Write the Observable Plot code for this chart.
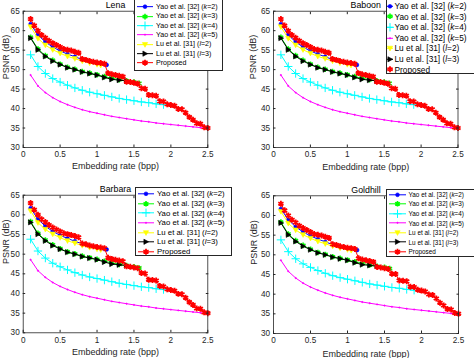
<!DOCTYPE html>
<html><head><meta charset="utf-8">
<script src="https://cdn.jsdelivr.net/npm/d3@7"></script>
<script src="https://cdn.jsdelivr.net/npm/@observablehq/plot@0.6"></script>
<style>
body{margin:0;background:#fff;}
#fig{position:relative;width:474px;height:358px;overflow:hidden;background:#fff;font-family:"Liberation Sans",Arial,sans-serif;}
.panel{position:absolute;}
.legend{position:absolute;background:#fff;border:1px solid #262626;box-sizing:border-box;overflow:hidden;}
.legend .row{display:flex;align-items:center;white-space:nowrap;color:#000;}
.legend svg{flex:none;}
</style></head><body><div id="fig"></div>
<script>
// ---- data ----
const panelTitles = ["Lena", "Baboon", "Barbara", "Goldhill"];
const xTicks = [0, 0.5, 1, 1.5, 2, 2.5];
const yTicks = [30, 35, 40, 45, 50, 55, 60, 65];
const xLabel = "Embedding rate (bpp)";
const yLabel = "PSNR (dB)";
const seriesLabels = [
  "Yao et al. [32] (<i>k</i>=2)", "Yao et al. [32] (<i>k</i>=3)", "Yao et al. [32] (<i>k</i>=4)",
  "Yao et al. [32] (<i>k</i>=5)", "Lu et al. [31] (<i>l</i>=2)", "Lu et al. [31] (<i>l</i>=3)", "Proposed"
];
const yao2X = [0.1,0.2,0.3,0.4,0.5,0.6,0.7,0.8,0.9,1.0,1.1,1.13];
const yao2Y = [61.7,58.9,57.1,55.8,54.8,54.0,53.3,52.6,52.1,51.7,51.4,51.2];
const yao3X = [0.1,0.2,0.3,0.4,0.5,0.6,0.7,0.8,0.9,1.0,1.1,1.2,1.3,1.4,1.5,1.57];
const yao3Y = [58.3,55.3,53.6,52.4,51.4,50.6,50.1,49.5,49.1,48.7,48.2,47.8,47.4,47.1,46.8,46.5];
const yao4X = [0.1,0.2,0.3,0.4,0.5,0.6,0.7,0.8,0.9,1.0,1.1,1.2,1.3,1.4,1.5,1.6,1.7,1.8,1.9];
const yao4Y = [53.8,50.8,49.0,47.7,46.8,46.0,45.3,44.7,44.2,43.8,43.4,43.0,42.6,42.3,42.0,41.7,41.5,41.2,41.0];
const yao5X = [0.1,0.2,0.3,0.4,0.5,0.6,0.7,0.8,0.9,1.0,1.1,1.2,1.3,1.4,1.5,1.6,1.7,1.8,1.9,2.0,2.1,2.2,2.3,2.4,2.5];
const yao5Y = [48.6,45.8,44.1,42.8,41.8,41.0,40.3,39.7,39.2,38.8,38.4,38.0,37.7,37.4,37.1,36.8,36.6,36.3,36.1,35.9,35.7,35.5,35.3,35.1,34.9];
const lu2X = [0.1,0.2,0.3,0.4,0.5,0.6,0.7,0.8,0.9,1.0,1.05];
const lu2Y = [61.0,58.0,56.3,55.1,54.2,53.4,52.8,52.2,51.7,51.3,51.1];
const lu3X = [0.1,0.2,0.3,0.4,0.5,0.6,0.7,0.8,0.9,1.0,1.1,1.2,1.3,1.4];
const lu3Y = [58.1,55.1,53.4,52.2,51.3,50.5,50.0,49.4,49.0,48.6,48.0,47.5,47.3,47.1];
const propX = [0.1,0.15,0.2,0.25,0.3,0.35,0.4,0.45,0.5,0.55,0.6,0.65,0.7,0.75,0.8,0.85,0.9,0.95,1.0,1.05,1.1,
  1.15,1.2,1.25,1.3,1.35,1.4,1.45,1.5,1.55,1.6,1.65,1.7,1.75,1.8,1.85,1.9,1.95,2.0,2.05,2.1,2.15,2.2,2.25,2.3,2.35,2.4,2.45,2.5];
const propY = [63.0,61.3,60.0,58.9,58.2,57.4,56.8,56.3,55.8,55.3,55.1,54.9,54.6,54.3,52.7,52.5,52.2,52.0,51.8,51.7,51.5,
  49.1,48.8,48.6,48.4,48.2,46.9,46.8,46.6,46.4,45.2,45.1,43.5,43.4,43.3,41.9,41.8,41.1,40.9,40.7,39.9,39.8,38.9,37.8,37.1,36.2,36.1,35.2,35.0];

// ---- styles ----
const triRight = {draw(c, s){const h = Math.sqrt(s) * 0.62; c.moveTo(h, 0); c.lineTo(-h * 0.8, -h); c.lineTo(-h * 0.8, h); c.closePath();}};
const triDown = {draw(c, s){const h = Math.sqrt(s) * 0.62; c.moveTo(0, h); c.lineTo(-h, -h * 0.8); c.lineTo(h, -h * 0.8); c.closePath();}};
const series = [
  {xs: yao2X, ys: yao2Y, color: "#0000ff", symbol: "circle", fill: true, r: 1.9},
  {xs: yao3X, ys: yao3Y, color: "#00ff00", symbol: "asterisk", fill: false, r: 2.6, sw: 1.6},
  {xs: yao4X, ys: yao4Y, color: "#00ffff", symbol: "plus", fill: false, r: 2.8, sw: 1},
  {xs: yao5X, ys: yao5Y, color: "#ff00ff", symbol: "circle", fill: true, r: 0.7},
  {xs: lu2X, ys: lu2Y, color: "#ffff00", symbol: triDown, fill: true, r: 2.4},
  {xs: lu3X, ys: lu3Y, color: "#000000", symbol: triRight, fill: true, r: 2.4},
  {xs: propX, ys: propY, color: "#ff0000", symbol: "asterisk", fill: false, r: 2.8, sw: 1.8}
];

// ---- layout per panel ----
const layout = [
  {left: 0, top: 0, ml: 22.7, mr: 29.7, mt: 10.7, mb: 32, yLab: -17.5, xLab: 18.7,
   lg: {left: 134, top: -1, width: 89, height: 72, rowH: 9.3, pad: 2.4, font: 7.1, sw: 19, lx0: 2, lx1: 18, gap: 2}},
  {left: 237, top: 0, ml: 36, mr: 16.5, mt: 10.7, mb: 32, yLab: -20, xLab: 19.7,
   lg: {left: 386, top: -1, width: 100, height: 75, rowH: 10.6, pad: 0.8, font: 8.3, sw: 7, lx0: 0, lx1: 6, gap: 0.5}},
  {left: 0, top: 179, ml: 22.7, mr: 29.7, mt: 15.7, mb: 25.7, yLab: -17, xLab: 19.7,
   lg: {left: 135, top: 187, width: 97, height: 69, rowH: 9.6, pad: 1.2, font: 7.8, sw: 19, lx0: 2, lx1: 18, gap: 2}},
  {left: 237, top: 179, ml: 36, mr: 16, mt: 16.3, mb: 25, yLab: -19, xLab: 20.7,
   lg: {left: 386, top: 189, width: 100, height: 68, rowH: 9.6, pad: -0.5, font: 6.4, sw: 20, lx0: 2, lx1: 19, gap: 1.5}}
];

const fig = document.getElementById("fig");
const axisColor = "#262626";

function makePanel(title, L) {
  const marks = [];
  series.forEach(s => {
    const data = s.xs.map((x, i) => ({x, y: s.ys[i]}));
    marks.push(Plot.line(data, {x: "x", y: "y", stroke: s.color, strokeWidth: 1}));
    marks.push(Plot.dot(data, {x: "x", y: "y", symbol: s.symbol, r: s.r,
      fill: s.fill ? s.color : "none", stroke: s.color, strokeWidth: s.sw || 0.6}));
  });
  return Plot.plot({
    width: 237, height: 179,
    marginLeft: L.ml, marginRight: L.mr, marginTop: L.mt, marginBottom: L.mb,
    style: {fontFamily: "'Liberation Sans', Arial, sans-serif", fontSize: "8px", color: axisColor, background: "transparent", overflow: "visible"},
    x: {domain: [0, 2.5]},
    y: {domain: [30, 65]},
    marks: [
      ...marks,
      Plot.frame({stroke: axisColor, strokeWidth: 0.8}),
      Plot.axisX({ticks: xTicks, tickSize: -2.5, tickPadding: 6.5, tickFormat: d => String(d), label: null, fontSize: 8.2, stroke: axisColor}),
      Plot.axisX({anchor: "top", ticks: xTicks, tickSize: -2.5, tickFormat: () => "", label: null, stroke: axisColor}),
      Plot.axisY({ticks: yTicks, tickSize: -2.5, tickPadding: 6, tickFormat: d => String(d), label: null, fontSize: 8.2, stroke: axisColor}),
      Plot.axisY({anchor: "right", ticks: yTicks, tickSize: -2.5, tickFormat: () => "", label: null, stroke: axisColor}),
      Plot.text([xLabel], {frameAnchor: "bottom", dy: L.xLab, lineAnchor: "middle", fontSize: 9, fill: axisColor}),
      Plot.text([yLabel], {frameAnchor: "left", dx: L.yLab, rotate: -90, lineAnchor: "middle", fontSize: 9, fill: axisColor}),
      Plot.text([title], {frameAnchor: "top", lineAnchor: "bottom", dy: -3, fontSize: 8.8, fill: "#000"})
    ]
  });
}

function symbolPath(s, r) {
  const sym = typeof s.symbol === "string" ? ({circle: d3.symbolCircle, asterisk: d3.symbolAsterisk, plus: d3.symbolPlus})[s.symbol] : s.symbol;
  return d3.symbol(sym, Math.PI * r * r)();
}

function makeLegend(g) {
  const div = document.createElement("div");
  div.className = "legend";
  Object.assign(div.style, {left: g.left + "px", top: g.top + "px", width: g.width + "px", height: g.height + "px", paddingTop: Math.max(0, g.pad) + "px", fontSize: g.font + "px"});
  series.forEach((s, i) => {
    const row = document.createElement("div");
    row.className = "row";
    row.style.height = g.rowH + "px";
    if (i === 0 && g.pad < 0) row.style.marginTop = g.pad + "px";
    const cx = (g.lx0 + g.lx1) / 2, cy = g.rowH / 2;
    row.innerHTML = `<svg width="${g.sw}" height="${g.rowH}"><line x1="${g.lx0}" x2="${g.lx1}" y1="${cy}" y2="${cy}" stroke="${s.color}" stroke-width="1"/>` +
      `<path transform="translate(${cx},${cy})" d="${symbolPath(s, s.r)}" fill="${s.fill ? s.color : "none"}" stroke="${s.color}" stroke-width="${s.sw || 0.6}"/></svg>` +
      `<span style="margin-left:${g.gap}px">${seriesLabels[i]}</span>`;
    div.appendChild(row);
  });
  return div;
}

panelTitles.forEach((t, i) => {
  const L = layout[i];
  const wrap = document.createElement("div");
  wrap.className = "panel";
  wrap.style.left = L.left + "px";
  wrap.style.top = L.top + "px";
  wrap.appendChild(makePanel(t, L));
  fig.appendChild(wrap);
});
layout.forEach(L => fig.appendChild(makeLegend(L.lg)));
</script>
</body></html>
